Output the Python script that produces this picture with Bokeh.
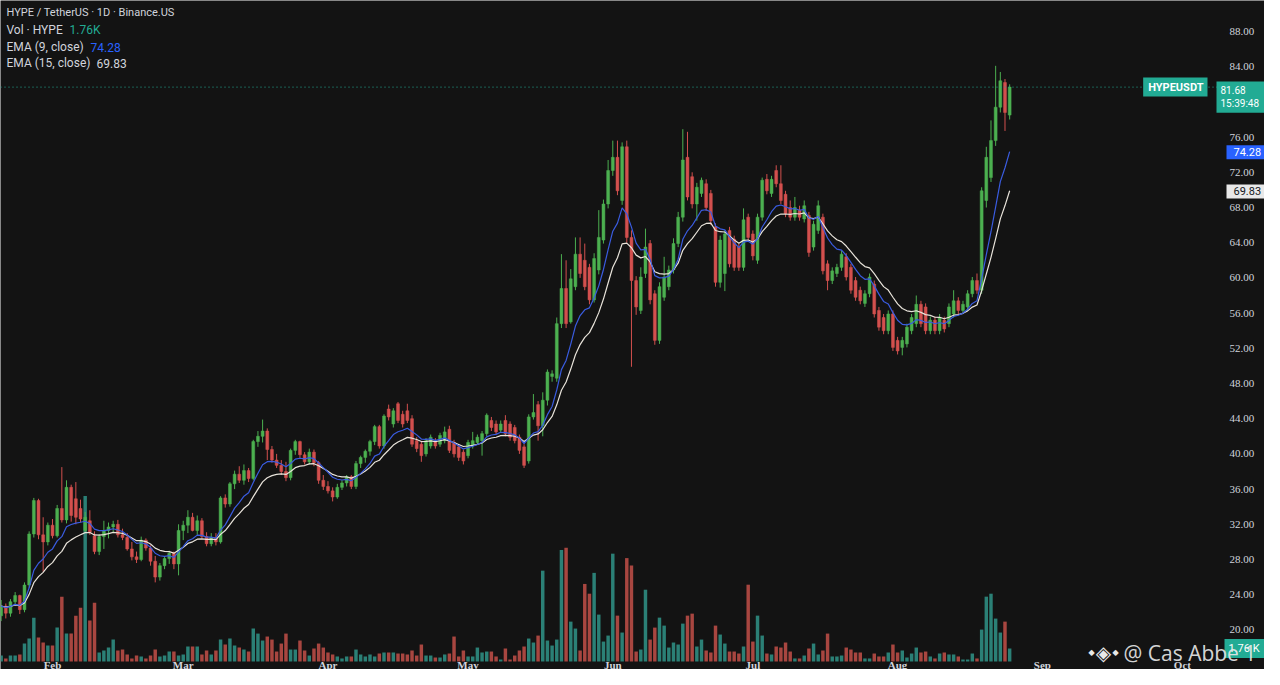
import numpy as np
import pandas as pd
from bokeh.plotting import figure
from bokeh.models import Range1d, Label, LabelSet, Span, ColumnDataSource
from bokeh.embed import file_html
from bokeh.resources import INLINE

# ---------------- data (daily candles, day 0 = Jan 21) ----------------
opens = [
    21.6, 22.7, 21.9, 23.2, 23.9, 22.3, 25.1, 30.9, 34.7, 30.8,
    30.0, 31.9, 30.7, 33.8, 32.5, 36.2, 34.9, 33.8, 31.3, 32.4,
    30.7, 28.9, 30.6, 31.3, 31.7, 32.0, 30.8, 30.5, 29.2, 28.3,
    28.0, 30.2, 29.3, 27.8, 26.0, 27.3, 28.1, 28.7, 27.5, 31.3,
    31.9, 32.8, 31.3, 32.4, 30.6, 29.8, 30.5, 30.0, 35.0, 34.3,
    36.6, 37.7, 37.0, 38.1, 37.2, 41.4, 42.0, 42.6, 40.5, 39.3,
    38.7, 38.0, 37.3, 40.4, 41.4, 39.9, 39.1, 40.2, 39.0, 37.0,
    36.3, 35.8, 35.1, 36.2, 36.7, 37.4, 36.3, 38.9, 39.6, 40.3,
    41.4, 43.1, 40.9, 45.1, 43.4, 45.7, 44.5, 44.9, 44.0, 41.5,
    41.1, 40.0, 40.9, 41.5, 41.1, 41.5, 42.8, 41.3, 40.8, 40.2,
    39.8, 40.9, 41.3, 41.5, 42.3, 43.8, 43.4, 42.7, 43.8, 43.4,
    43.0, 41.9, 40.8, 39.2, 44.2, 45.6, 43.2, 46.1, 48.8, 48.6,
    54.8, 58.8, 55.0, 59.0, 62.7, 62.0, 61.2, 57.5, 60.9, 64.3,
    68.4, 72.2, 73.7, 68.8, 74.9, 64.6, 59.7, 56.3, 60.5, 63.9,
    58.2, 52.9, 57.8, 59.0, 60.9, 63.9, 66.9, 73.7, 71.5, 68.4,
    69.6, 70.7, 69.6, 65.8, 59.5, 60.5, 65.4, 64.4, 63.5, 61.2,
    66.9, 65.0, 62.0, 66.9, 71.2, 69.6, 72.2, 70.7, 69.5, 68.0,
    66.9, 67.7, 66.7, 67.1, 63.5, 65.4, 66.9, 61.6, 59.7, 60.5,
    61.2, 62.4, 61.2, 59.7, 58.6, 57.1, 58.2, 59.3, 56.3, 55.5,
    54.0, 55.9, 52.9, 52.1, 52.5, 54.0, 54.8, 57.0, 56.7, 54.0,
    55.2, 54.0, 55.2, 54.8, 55.9, 57.4, 56.3, 56.7, 58.2, 59.7,
    58.6, 68.8, 71.4, 75.6, 79.4, 82.2, 78.5,
]
highs = [
    23.4, 23.0, 23.5, 24.3, 24.0, 25.4, 31.2, 35.0, 34.9, 32.8,
    32.2, 32.6, 34.2, 38.5, 37.0, 36.5, 36.8, 34.8, 33.4, 33.6,
    31.2, 30.9, 32.4, 32.2, 32.4, 32.5, 31.5, 31.0, 30.0, 28.9,
    30.6, 30.4, 29.6, 28.4, 27.6, 28.4, 29.0, 28.9, 32.0, 32.4,
    33.6, 33.3, 33.0, 32.7, 31.1, 31.0, 31.0, 35.2, 35.4, 36.8,
    38.1, 38.6, 38.8, 38.4, 41.6, 42.6, 43.9, 42.9, 40.9, 40.0,
    39.3, 39.1, 40.6, 41.6, 41.5, 40.2, 40.6, 40.5, 39.2, 37.6,
    36.9, 36.2, 36.6, 37.0, 37.6, 37.6, 39.2, 39.8, 40.5, 41.6,
    43.3, 43.3, 44.5, 45.6, 45.2, 45.9, 44.9, 45.7, 44.4, 41.9,
    41.4, 41.8, 42.2, 41.8, 42.4, 43.1, 43.2, 41.6, 41.0, 40.5,
    41.6, 42.5, 42.2, 42.6, 44.6, 44.2, 43.8, 43.8, 44.4, 43.7,
    43.3, 42.2, 41.1, 44.5, 46.8, 46.0, 47.0, 49.6, 49.5, 55.5,
    62.7, 62.0, 61.0, 64.6, 64.6, 63.9, 61.6, 62.8, 67.7, 68.9,
    73.4, 75.6, 75.6, 75.4, 75.6, 65.4, 60.2, 61.2, 65.6, 64.3,
    58.6, 59.5, 62.4, 61.4, 64.5, 67.5, 76.9, 76.6, 72.0, 70.8,
    71.4, 71.2, 70.0, 66.2, 64.8, 65.4, 65.8, 64.8, 63.9, 67.9,
    67.3, 65.4, 67.3, 71.4, 71.8, 71.6, 72.8, 72.8, 69.9, 68.8,
    69.2, 68.2, 68.8, 67.5, 66.5, 68.8, 67.3, 62.0, 61.2, 61.6,
    63.1, 62.8, 61.6, 60.1, 59.0, 58.6, 60.5, 59.7, 56.7, 55.9,
    56.3, 56.3, 53.3, 53.3, 54.8, 55.9, 58.0, 57.4, 57.1, 55.6,
    55.6, 55.9, 55.6, 57.1, 58.6, 57.8, 57.4, 58.6, 60.1, 60.5,
    70.3, 74.9, 77.9, 84.1, 83.4, 82.6, 82.0,
]
lows = [
    21.0, 21.3, 21.5, 22.8, 21.8, 22.0, 24.8, 30.5, 30.3, 26.6,
    29.6, 30.4, 30.5, 32.2, 32.1, 32.3, 32.0, 32.2, 31.0, 30.8,
    28.6, 28.5, 29.2, 30.4, 31.0, 30.5, 30.2, 29.0, 27.9, 27.6,
    27.8, 29.0, 27.3, 25.4, 25.6, 26.9, 27.5, 26.9, 26.2, 30.2,
    31.0, 31.2, 30.8, 30.4, 29.5, 29.5, 29.6, 29.8, 33.9, 34.0,
    36.0, 36.7, 36.5, 36.8, 37.0, 40.8, 41.3, 39.3, 39.0, 38.4,
    37.6, 36.9, 37.0, 39.9, 39.5, 38.8, 38.8, 38.6, 36.6, 35.9,
    35.5, 34.6, 34.9, 35.9, 36.3, 36.0, 36.0, 38.4, 39.0, 39.8,
    41.0, 40.6, 40.6, 43.8, 43.0, 43.5, 43.0, 43.5, 40.8, 40.2,
    39.1, 39.7, 40.6, 40.6, 40.8, 41.2, 40.1, 39.6, 39.2, 38.8,
    39.5, 40.6, 41.0, 39.8, 42.0, 42.6, 42.2, 42.4, 42.0, 41.5,
    41.2, 40.0, 38.4, 38.9, 43.9, 41.5, 42.0, 45.5, 48.2, 48.2,
    54.3, 54.3, 54.8, 58.6, 60.0, 58.6, 57.0, 57.2, 60.4, 63.9,
    67.9, 71.6, 69.4, 68.3, 64.0, 49.9, 55.8, 55.9, 60.0, 57.0,
    52.4, 52.5, 57.4, 58.6, 60.5, 63.5, 66.4, 68.8, 67.9, 66.5,
    69.2, 67.6, 66.0, 59.0, 58.9, 58.5, 61.2, 60.8, 60.8, 60.8,
    64.2, 62.0, 61.6, 66.5, 69.5, 69.2, 70.3, 68.4, 66.9, 66.5,
    66.5, 66.5, 66.3, 62.4, 63.1, 65.0, 60.4, 58.6, 59.3, 60.1,
    60.8, 59.7, 58.2, 57.4, 57.0, 56.7, 57.8, 55.5, 54.0, 53.6,
    53.6, 51.7, 51.3, 51.2, 52.1, 53.6, 54.4, 54.4, 53.6, 53.6,
    53.6, 53.6, 53.8, 54.4, 55.5, 55.9, 55.9, 56.3, 57.8, 58.2,
    58.2, 68.0, 70.9, 75.0, 78.8, 76.7, 78.0,
]
closes = [
    22.7, 21.9, 23.2, 23.9, 22.3, 25.1, 30.9, 34.7, 30.8, 30.0,
    31.9, 30.7, 33.8, 32.5, 36.2, 33.0, 32.8, 32.6, 32.8, 31.1,
    28.9, 30.6, 31.3, 31.7, 32.0, 30.8, 30.5, 29.2, 28.3, 28.0,
    30.2, 29.3, 27.8, 26.0, 27.3, 28.1, 28.7, 27.5, 31.3, 31.9,
    32.8, 31.3, 32.4, 30.6, 29.8, 30.5, 30.0, 35.0, 34.3, 36.6,
    37.7, 37.0, 38.1, 37.2, 41.4, 42.0, 42.6, 40.5, 39.3, 38.7,
    38.0, 37.3, 40.4, 41.4, 39.9, 39.1, 40.2, 39.0, 37.0, 36.3,
    35.8, 35.1, 36.2, 36.7, 37.4, 36.3, 38.9, 39.6, 40.3, 41.4,
    43.1, 40.9, 44.3, 44.2, 44.9, 43.8, 43.4, 43.8, 41.1, 40.6,
    39.8, 41.5, 41.9, 40.9, 42.1, 42.5, 40.4, 40.0, 39.6, 39.2,
    41.3, 41.5, 41.9, 42.3, 44.4, 43.0, 42.5, 43.4, 42.3, 41.9,
    41.5, 40.4, 38.7, 44.2, 44.7, 43.2, 46.1, 49.3, 49.1, 54.8,
    58.8, 54.8, 59.9, 62.7, 60.5, 59.0, 57.5, 62.2, 64.6, 68.4,
    72.2, 73.7, 69.9, 74.9, 64.6, 59.7, 56.7, 60.1, 63.5, 57.5,
    52.9, 59.0, 60.1, 60.9, 63.9, 66.9, 73.4, 69.2, 68.4, 70.3,
    71.1, 68.0, 66.5, 59.5, 64.3, 65.0, 61.6, 61.2, 61.2, 66.6,
    64.6, 62.5, 66.9, 71.1, 69.9, 71.2, 70.7, 68.8, 67.3, 66.9,
    68.0, 66.9, 68.2, 62.9, 66.1, 68.2, 60.8, 59.7, 60.8, 61.2,
    62.7, 60.1, 58.6, 57.8, 57.4, 58.2, 60.1, 55.9, 54.4, 54.0,
    55.9, 52.1, 51.7, 52.9, 54.4, 55.5, 57.0, 54.8, 54.0, 55.2,
    54.0, 55.5, 54.2, 56.7, 57.4, 56.3, 57.0, 58.2, 59.7, 58.6,
    69.9, 73.7, 75.6, 79.4, 82.4, 78.8, 81.68,
]
volumes_k = [
    0.81, 0.41, 0.81, 0.81, 0.95, 2.43, 3.11, 5.94, 3.24, 2.57,
    2.16, 2.16, 4.59, 8.78, 3.78, 3.78, 6.21, 7.29, 22.4, 5.54,
    7.97, 1.22, 1.49, 1.89, 2.97, 1.49, 1.62, 0.95, 0.41, 0.81,
    0.68, 0.41, 0.81, 1.62, 0.68, 0.81, 1.35, 1.35, 0.81, 0.95,
    2.03, 2.03, 2.03, 0.95, 1.49, 0.95, 1.49, 2.97, 2.30, 3.11,
    2.16, 1.89, 1.62, 1.35, 4.46, 3.78, 2.84, 3.38, 2.97, 1.35,
    2.43, 3.78, 1.62, 1.62, 2.84, 1.49, 0.81, 1.76, 2.43, 1.89,
    1.22, 0.95, 0.68, 0.41, 0.68, 0.68, 1.62, 0.95, 0.68, 0.95,
    0.68, 1.08, 1.22, 1.22, 1.22, 1.08, 1.08, 0.95, 1.49, 0.81,
    2.30, 0.81, 0.81, 0.54, 0.54, 0.95, 1.08, 3.38, 0.68, 1.49,
    0.68, 0.68, 1.89, 1.22, 1.35, 1.35, 0.68, 0.27, 1.76, 0.27,
    0.81, 1.49, 2.03, 3.11, 2.57, 3.51, 12.3, 2.84, 2.16, 2.97,
    15.1, 15.4, 5.40, 4.46, 1.49, 10.5, 9.18, 12.0, 6.35, 2.70,
    3.51, 14.6, 6.21, 3.92, 14.0, 13.0, 1.35, 1.62, 9.72, 2.97,
    4.59, 5.94, 4.86, 1.89, 2.57, 2.30, 5.13, 6.21, 6.48, 2.03,
    2.97, 1.49, 1.22, 4.86, 3.65, 2.43, 1.35, 1.35, 1.08, 2.03,
    10.4, 2.70, 6.21, 3.51, 1.08, 0.95, 2.03, 1.89, 2.57, 1.35,
    0.41, 0.41, 0.81, 1.76, 2.43, 0.95, 1.49, 3.78, 0.68, 0.68,
    0.81, 1.89, 1.62, 1.22, 1.22, 0.41, 0.41, 1.08, 0.68, 0.68,
    1.22, 2.30, 1.22, 1.49, 0.54, 1.08, 1.89, 1.22, 1.35, 0.68,
    0.41, 1.08, 1.22, 0.95, 0.95, 0.68, 0.27, 0.27, 1.08, 0.41,
    4.32, 8.78, 9.18, 5.81, 3.92, 5.40, 1.76,
]

month_labels = ["Feb", "Mar", "Apr", "May", "Jun", "Jul", "Aug", "Sep", "Oct"]
month_days = [11, 39, 70, 100, 131, 161, 192, 223, 253]
price_ticks = [20, 24, 28, 32, 36, 40, 44, 48, 52, 56, 60, 64, 68, 72, 76, 80, 84, 88]

title_text = "HYPE / TetherUS \u00b7 1D \u00b7 Binance.US"
symbol_text = "HYPEUSDT"
clock_text = "15:39:48"
ema9_last = "74.28"
ema15_last = "69.83"
watermark = "@ Cas Abbe 1"

# ---------------- styling ----------------
BG = "#131313"
TXT = "#d1d4dc"
UP = "#4cb050"
DN = "#d3504e"
VUP = "#2b8076"
VDN = "#a84640"
TEAL = "#22ab94"
BLUE = "#2962ff"
EMA9_C = "#3a5ce0"
EMA15_C = "#e8e3da"
FONT = "Roboto"

n = min(len(opens), len(highs), len(lows), len(closes), len(volumes_k))
df = pd.DataFrame(dict(
    x=np.arange(n), open=opens[:n], high=highs[:n], low=lows[:n],
    close=closes[:n], vol=volumes_k[:n]))
up = df["close"] >= df["open"]
df["top"] = df[["open", "close"]].max(axis=1)
df["bottom"] = df[["open", "close"]].min(axis=1)
df["color"] = np.where(up, UP, DN)
df["vcolor"] = np.where(up, VUP, VDN)
df["ema9"] = df["close"].ewm(span=9, adjust=False).mean()
df["ema15"] = df["close"].ewm(span=15, adjust=False).mean()
src = ColumnDataSource(df)

W, H = 1264, 669
# the plotting frame fills the whole figure; the price scale and the time
# scale are drawn as text inside its right and bottom strips
p = figure(width=W, height=H, output_backend="svg", toolbar_location=None,
           x_range=Range1d(-0.137, 270.58), y_range=Range1d(15.50, 91.523),
           x_axis_location=None, y_axis_location=None,
           min_border_left=0, min_border_top=0, min_border_right=0, min_border_bottom=0)
p.extra_y_ranges = {"vol": Range1d(-1.083, 89.5)}
p.background_fill_color = BG
p.border_fill_color = BG
p.outline_line_color = None
p.grid.visible = False

# volume
p.vbar(x="x", top="vol", bottom=0, width=0.74, fill_color="vcolor", line_color=None,
       y_range_name="vol", source=src)
# candles
p.segment(x0="x", x1="x", y0="low", y1="high", line_color="color", line_width=1, source=src)
p.vbar(x="x", top="top", bottom="bottom", width=0.62, fill_color="color",
       line_color="color", line_width=0.5, source=src)
# EMAs
p.line("x", "ema15", line_color=EMA15_C, line_width=1.2, source=src)
p.line("x", "ema9", line_color=EMA9_C, line_width=1.2, source=src)

# current price line
last_close = closes[n - 1]
p.add_layout(Span(location=last_close, dimension="width", line_color=TEAL,
                  line_dash="1 3", line_width=1))

# price scale (right) and time scale (bottom)
tick_src = ColumnDataSource(dict(y=price_ticks, text=[f"{t:.2f}" for t in price_ticks]))
p.add_layout(LabelSet(x=1229, y="y", text="text", source=tick_src, x_units="screen",
                      text_color=TXT, text_font=FONT, text_font_size="11px",
                      text_baseline="middle", text_align="left"))
month_src = ColumnDataSource(dict(x=month_days, text=month_labels))
p.add_layout(LabelSet(x="x", y=5, text="text", source=month_src, y_units="screen",
                      text_color=TXT, text_font=FONT, text_font_size="11px",
                      text_font_style="bold", text_baseline="middle", text_align="center"))


def lab(text, x, y, color=TXT, size="12px", bold=False, y_units="screen",
        align="left", baseline="middle", bg=None, pad=None, font=FONT,
        y_range_name="default", alpha=1.0):
    kw = dict(text=text, x=x, y=y, x_units="screen", y_units=y_units,
              text_color=color, text_font_size=size, text_font=font,
              text_font_style="bold" if bold else "normal",
              text_align=align, text_baseline=baseline, text_alpha=alpha,
              y_range_name=y_range_name)
    if bg is not None:
        kw.update(background_fill_color=bg, background_fill_alpha=1.0)
    if pad is not None:
        kw.update(padding=pad)
    p.add_layout(Label(**kw))


# legend top-left (screen y measured up from the bottom of the figure)
lab(title_text, 6, H - 12, size="11px")
lab("Vol \u00b7 HYPE", 6, H - 29.5)
lab(f"{volumes_k[n-1]:.2f}K", 69, H - 29.5, color=TEAL)
lab("EMA (9, close)", 6, H - 46.5)
lab(ema9_last, 90, H - 46.5, color=BLUE)
lab("EMA (15, close)", 6, H - 62.5)
lab(ema15_last, 96, H - 62.5)

# right-side price tags
lab(symbol_text, 1207, last_close, color="#ffffff", size="11px", bold=True,
    y_units="data", align="right", bg=TEAL, pad=dict(left=5, right=4, top=3, bottom=3))
lab(f"{last_close:.2f}\n{clock_text}", 1216, H - 81, color="#ffffff", size="10px",
    baseline="top", bg=TEAL, pad=dict(left=4, right=12, top=3, bottom=4))
lab(ema9_last, 1226, float(ema9_last), color="#ffffff", size="11px", y_units="data",
    bg=BLUE, pad=dict(left=7, right=4, top=3, bottom=3))
lab(ema15_last, 1226, float(ema15_last), color="#131722", size="11px", y_units="data",
    bg="#e8e8e8", pad=dict(left=7, right=4, top=3, bottom=3))
lab(f"{volumes_k[n-1]:.2f} K", 1224, volumes_k[n - 1], color="#ffffff", size="11px",
    y_units="data", y_range_name="vol", bg=TEAL, pad=dict(left=4, right=5, top=3, bottom=3))

# watermark
WY = H - 652
lab("\u25c8", 1103, WY, color="#e8e8e8", size="20px", align="center", font="DejaVu Sans")
lab("\u25c6", 1091, WY, color="#e8e8e8", size="8px", align="center", font="DejaVu Sans")
lab("\u25c6", 1115, WY, color="#e8e8e8", size="8px", align="center", font="DejaVu Sans")
lab(watermark, 1123, WY, color="#e8e8e8", size="21px", font="Open Sans", alpha=0.92)

open("out.html", "w").write(file_html(p, INLINE))
